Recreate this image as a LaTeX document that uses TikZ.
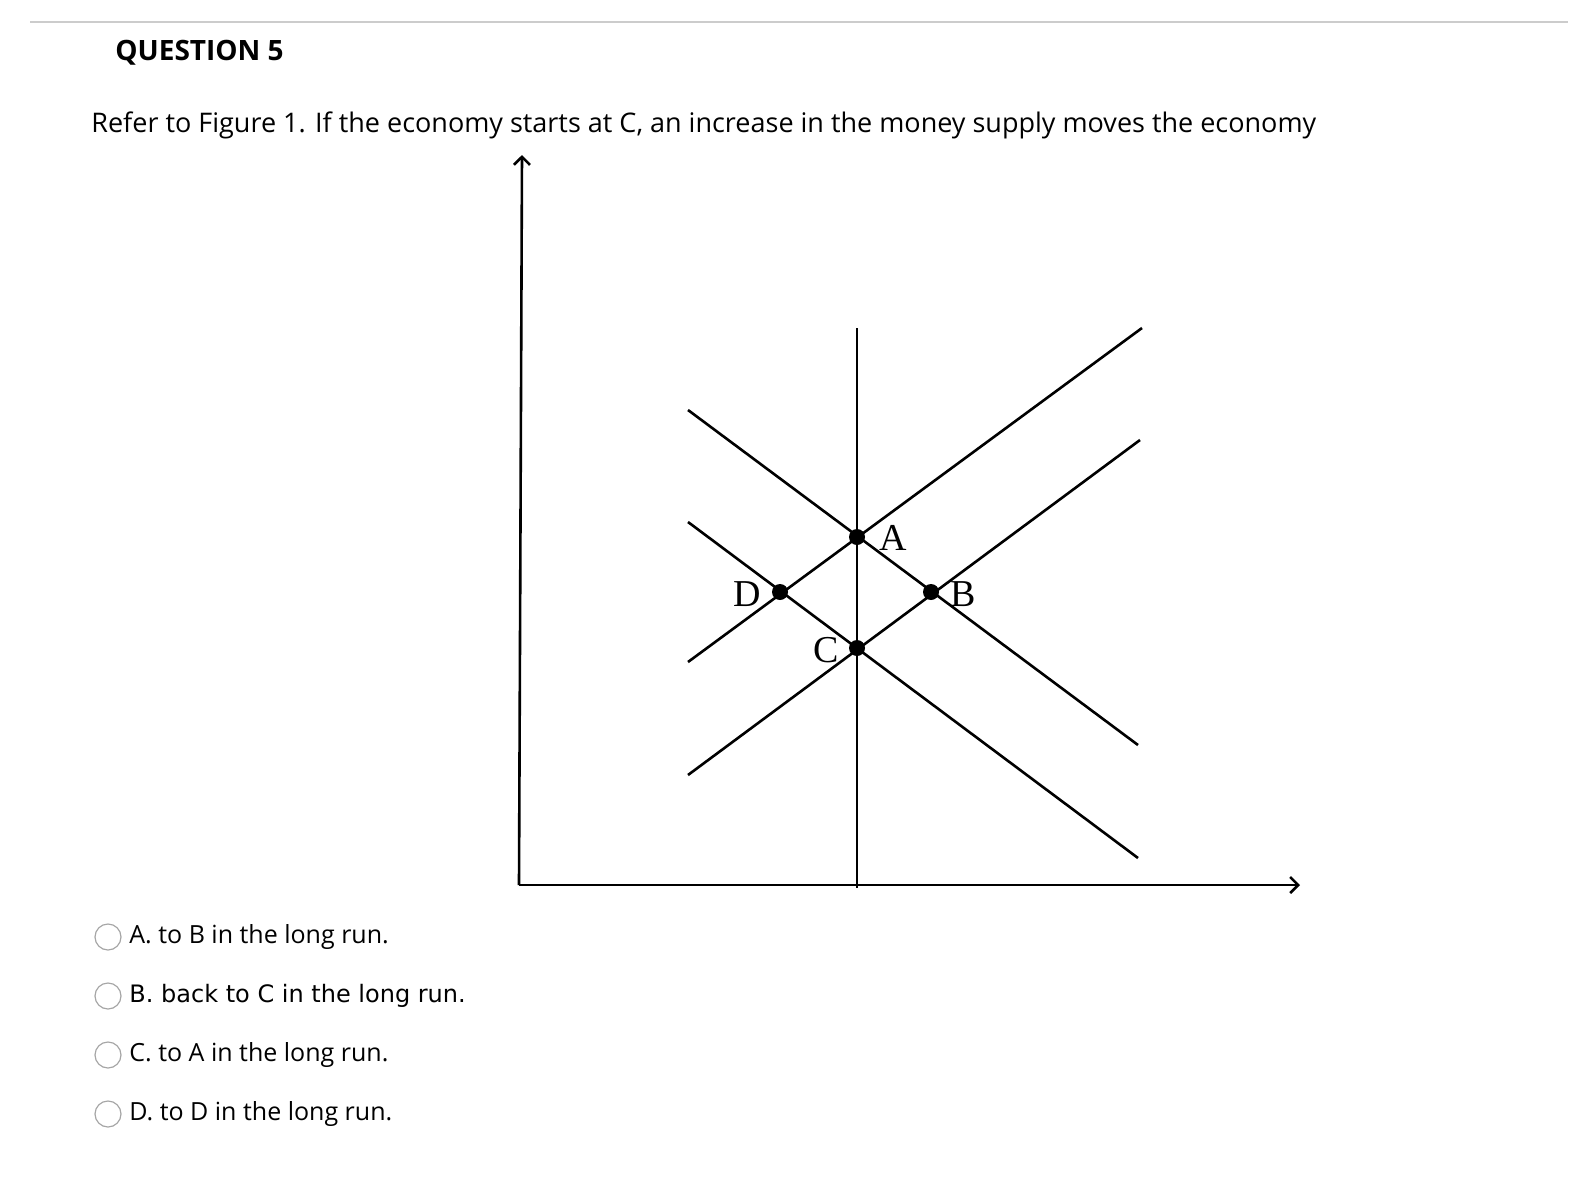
\documentclass[tikz,border=0pt]{standalone}
\usepackage{fontspec}
\setmainfont{Open Sans}
\newfontfamily\dvs{DejaVu Sans}
\newfontfamily\tms{Liberation Serif}
\usetikzlibrary{arrows.meta}
\begin{document}
\begin{tikzpicture}[x=0.5pt,y=-0.5pt,
  ln/.style={line width=1.3pt},
  dot/.style={circle,fill=black,inner sep=0pt,minimum size=8pt},
  lbl/.style={font=\tms\fontsize{19}{19}\selectfont,inner sep=0pt},
  opt/.style={anchor=west,font=\fontsize{12.5}{14}\selectfont,inner sep=0pt},
  radio/.style={circle,draw=gray!70,line width=0.6pt,minimum size=13pt,inner sep=0pt}]
\useasboundingbox (0,0) rectangle (1592,1196);
\draw[gray!40,line width=0.8pt] (30,22) -- (1568,22);
\node[anchor=west,inner sep=0pt,font=\bfseries\fontsize{14}{16}\selectfont] (q) at (115,53) {QUESTION 5};
\node[anchor=west,inner sep=0pt,font=\fontsize{13.5}{16}\selectfont] (t) at (91,125) {Refer to Figure 1. If the economy starts at C, an increase in the money supply moves the economy};
\coordinate (o) at (519,885);
\coordinate (yt) at (522,155);
\coordinate (xr) at (1300,885);
\draw[ln,-{Straight Barb[length=4pt]}] (o) -- (yt);
\draw[ln,-{Straight Barb[length=4pt]}] (o) -- (xr);
\coordinate (lt) at (857,328); \coordinate (lb) at (857,888);
\draw[ln] (lt) -- (lb);
\coordinate (d1a) at (688,410); \coordinate (d1b) at (1138,745);
\coordinate (d2a) at (688,522); \coordinate (d2b) at (1138,858);
\coordinate (s1a) at (688,662); \coordinate (s1b) at (1142,328);
\coordinate (s2a) at (688,775); \coordinate (s2b) at (1140,440);
\draw[ln] (d1a) -- (d1b); \draw[ln] (d2a) -- (d2b);
\draw[ln] (s1a) -- (s1b); \draw[ln] (s2a) -- (s2b);
\node[dot] (A) at (857,537) {};
\node[dot] (D) at (780,592) {};
\node[dot] (B) at (931,592) {};
\node[dot] (C) at (857,648) {};
\node[lbl] (la) at (893,538) {A};
\node[lbl] (ld) at (747,594) {D};
\node[lbl] (lb2) at (963,594) {B};
\node[lbl] (lc) at (826,650) {C};
\foreach \y/\n in {937/a,996/b,1055/c,1114/d} \node[radio] (r\n) at (108,\y) {};
\node[opt] (oa) at (129,937) {A. to B in the long run.};
\node[opt,font=\dvs\fontsize{12}{14}\selectfont] (ob) at (129,996) {B. back to C in the long run.};
\node[opt] (oc) at (129,1055) {C. to A in the long run.};
\node[opt] (od) at (129,1114) {D. to D in the long run.};
\end{tikzpicture}
\end{document}
